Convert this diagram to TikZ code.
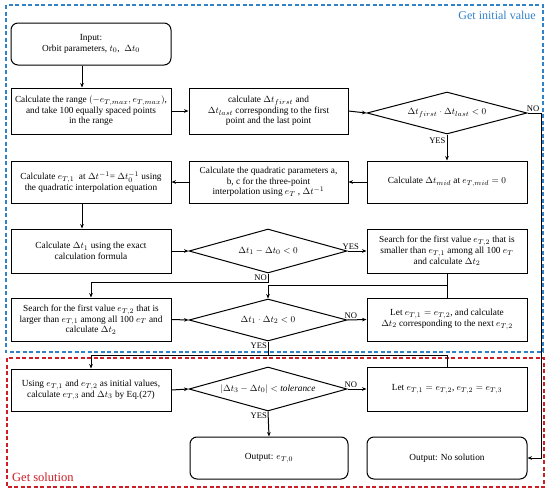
\documentclass[tikz,border=0pt]{standalone}
\usepackage{fontspec}
\setmainfont{Liberation Serif}
\usetikzlibrary{shapes.geometric,arrows.meta}
\definecolor{gblue}{RGB}{50,130,200}
\definecolor{gred}{RGB}{205,30,40}
\tikzset{
  basefont/.style={font=\fontsize{9.3}{10.6}\selectfont},
  pbox/.style={draw, line width=1pt, align=center, inner sep=1pt, basefont},
  rbox/.style={pbox, rounded corners=7pt},
  dia/.style={draw, line width=1pt, diamond, aspect=4.2, inner sep=0pt, align=center, basefont},
  arr/.style={line width=1pt, -{Stealth[length=4.5pt,width=3.6pt]}},
  ln/.style={line width=1pt},
  lab/.style={font=\fontsize{8.6}{9}\selectfont, inner sep=1pt},
  zone/.style={dashed, dash pattern=on 4pt off 2.5pt, line width=1.2pt}
}
\begin{document}
\begin{tikzpicture}[x=1pt,y=-1pt]
\useasboundingbox (0,0) rectangle (550,496);
% zones
\draw[zone, gblue] (6,5) rectangle (543,352);
\draw[zone, gred] (7,358) rectangle (544,487);
\node[gblue, font=\fontsize{12}{13}\selectfont, anchor=east, inner sep=0pt] (lzone1) at (536,15) {Get initial value};
\node[gred, font=\fontsize{12.5}{13}\selectfont, anchor=west, inner sep=0pt] (lzone2) at (12,477) {Get solution};
% nodes
\node[rbox, minimum width=160, minimum height=42] (in) at (91,44) {Input:\\ Orbit parameters, $t_0$,\ \ $\Delta t_0$};
\node[pbox, minimum width=160, minimum height=46] (range) at (91,111) {Calculate the range $(-e_{T,max}, e_{T,max})$,\\ and take 100 equally spaced points\\ in the range};
\node[pbox, minimum width=159, minimum height=46] (first) at (268.5,111) {calculate $\Delta t_{first}$ and\\ $\Delta t_{last}$ corresponding to the first\\ point and the last point};
\node[dia, minimum width=160, minimum height=42] (d1) at (447,113) {$\Delta t_{first}\cdot\Delta t_{last} < 0$};
\node[pbox, minimum width=160, minimum height=42] (mid) at (447,182) {Calculate $\Delta t_{mid}$ at $e_{T,mid}=0$};
\node[pbox, minimum width=159, minimum height=42] (quad) at (268.5,182) {Calculate the quadratic parameters a,\\ b, c for the three-point\\ interpolation using $e_T$ , $\Delta t^{-1}$};
\node[pbox, minimum width=160, minimum height=42] (eT1) at (91,182) {Calculate $e_{T,1}$\ \ at $\Delta t^{-1}$= $\Delta t_0^{-1}$ using\\ the quadratic interpolation equation};
\node[pbox, minimum width=160, minimum height=44] (dt1) at (91,251) {Calculate $\Delta t_1$ using the exact\\ calculation formula};
\node[dia, minimum width=158, minimum height=44] (d2) at (268,251) {$\Delta t_1-\Delta t_0<0$};
\node[pbox, minimum width=160, minimum height=44] (small) at (447,251) {Search for the first value $e_{T,2}$ that is\\ smaller than $e_{T,1}$ among all 100 $e_T$\\ and calculate $\Delta t_2$};
\node[pbox, minimum width=160, minimum height=43] (large) at (91,319.5) {Search for the first value $e_{T,2}$ that is\\ larger than $e_{T,1}$ among all 100 $e_T$ and\\ calculate $\Delta t_2$};
\node[dia, minimum width=158, minimum height=42] (d3) at (268,320) {$\Delta t_1\cdot\Delta t_2<0$};
\node[pbox, minimum width=160, minimum height=43] (let1) at (447,319.5) {Let $e_{T,1}=e_{T,2}$, and calculate\\ $\Delta t_2$ corresponding to the next $e_{T,2}$};
\node[pbox, minimum width=160, minimum height=42] (using) at (91,390) {Using $e_{T,1}$ and $e_{T,2}$ as initial values,\\ calculate $e_{T,3}$ and $\Delta t_3$ by Eq.(27)};
\node[dia, minimum width=158, minimum height=44] (d4) at (268,389) {$|\Delta t_3-\Delta t_0|<\mathit{tolerance}$};
\node[pbox, minimum width=160, minimum height=44] (let2) at (447,389) {Let $e_{T,1}=e_{T,2}$, $e_{T,2}=e_{T,3}$};
\node[rbox, minimum width=158, minimum height=42] (out0) at (269,458) {Output: $e_{T,0}$};
\node[rbox, minimum width=160, minimum height=42] (outn) at (447,458) {Output: No solution};
% junction coordinates
\coordinate (r1) at (541,113);
\coordinate (j2) at (447,285);
\coordinate (j3) at (447,355);
% connectors
\draw[arr] ([xshift=-9]in.south) -- ([xshift=-9]range.north);
\draw[arr] (range.east) -- (first.west);
\draw[arr] (first.east) -- (d1.west);
\draw[arr] (d1.south) -- (mid.north) node[lab, pos=0.25, left] {YES};
\draw[arr] (d1.east) -- (r1) |- (outn.east);
\node[lab, anchor=south east] at ([xshift=13]d1.east) {NO};
\draw[arr] (mid.west) -- (quad.east);
\draw[arr] (quad.west) -- (eT1.east);
\draw[arr] ([xshift=-9]eT1.south) -- ([xshift=-9]dt1.north);
\draw[arr] (dt1.east) -- (d2.west);
\draw[arr] (d2.east) -- (small.west);
\node[lab, anchor=south west] at ([xshift=-6]d2.east) {YES};
\draw[arr] (d2.south) -- ++(0,9) -| (large.north);
\node[lab, anchor=north east] at (d2.south) {NO};
\draw[arr] (large.east) -- (d3.west);
\draw[ln] (small.south) -- (let1.north);
\draw[arr] (j2) -| (d3.north);
\draw[arr] (d3.east) -- (let1.west);
\node[lab, anchor=south west] at ([xshift=-4]d3.east) {NO};
\draw[arr] (let2.north) -- (j3) -| (using.north);
\draw[ln] (d3.south) -- (d3.south |- j3);
\node[lab, anchor=north east] at (d3.south) {YES};
\draw[arr] (using.east) -- (d4.west);
\draw[arr] (d4.east) -- (let2.west);
\node[lab, anchor=south west] at ([xshift=-4]d4.east) {NO};
\draw[arr] (d4.south) -- (out0.north);
\node[lab, anchor=north east] at (d4.south) {YES};
\end{tikzpicture}
\end{document}
